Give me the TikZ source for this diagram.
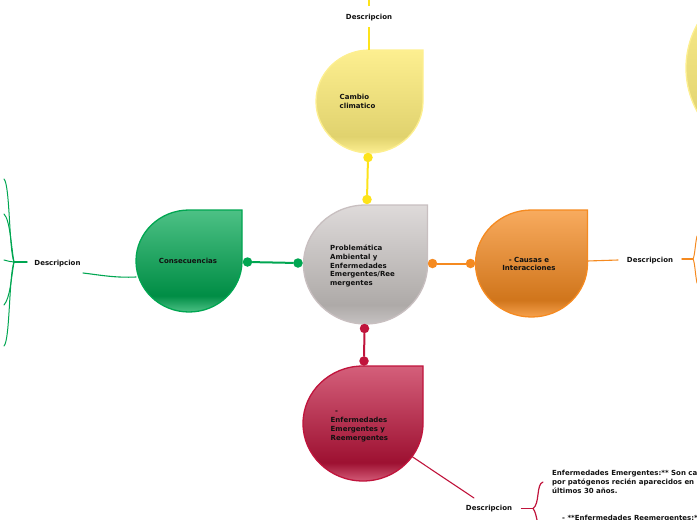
\documentclass[tikz,border=0pt]{standalone}
\usepackage{fontspec}
\setmainfont{DejaVu Sans}
\usetikzlibrary{shapes.geometric}
\definecolor{inkc}{HTML}{111111}
\definecolor{yellowl}{HTML}{FDE31A}
\definecolor{yellowb}{HTML}{FDEF90}
\definecolor{yellowd}{HTML}{E0D26E}
\definecolor{greenl}{HTML}{00A651}
\definecolor{orangel}{HTML}{F58A20}
\definecolor{redl}{HTML}{C0143C}
\definecolor{greyb}{HTML}{C8BFC0}
\definecolor{greyt}{HTML}{DEDADA}
\definecolor{greyd}{HTML}{AEAAA8}
\definecolor{greye}{HTML}{C6C2C2}
\pgfdeclareverticalshading{greyshade}{100bp}{color(0bp)=(greye); color(25bp)=(greye); color(33bp)=(greyd); color(75bp)=(greyt); color(100bp)=(greyt)}
\pgfdeclareverticalshading{yellowshade}{100bp}{color(0bp)=(yellowb); color(25bp)=(yellowb); color(33bp)=(yellowd); color(75bp)=(yellowb); color(100bp)=(yellowb)}
\pgfdeclareverticalshading{greenshade}{100bp}{color(0bp)=(greenl!70!white); color(25bp)=(greenl!70!white); color(33bp)=(greenl!85!black); color(75bp)=(greenl!70!white); color(100bp)=(greenl!70!white)}
\pgfdeclareverticalshading{orangeshade}{100bp}{color(0bp)=(orangel!80!white); color(25bp)=(orangel!80!white); color(33bp)=(orangel!85!black); color(75bp)=(orangel!72!white); color(100bp)=(orangel!72!white)}
\pgfdeclareverticalshading{redshade}{100bp}{color(0bp)=(redl!70!white); color(25bp)=(redl!70!white); color(33bp)=(redl!82!black); color(75bp)=(redl!68!white); color(100bp)=(redl!68!white)}
\tikzset{
	topic/.style={font=\fontsize{7}{8.8}\selectfont\bfseries,text=inkc,align=left,anchor=west,inner sep=0pt},
	label/.style={topic,anchor=center},
	dot/.style={circle,fill=#1,inner sep=0pt,minimum size=9.5pt},
	blobring/.style={ellipse,inner sep=0pt,outer sep=0pt,minimum width=#1},
	branch/.style={line width=#1,line cap=round},
}
% name, centre x, centre y, radii x and y, border colour, shading
\newcommand{\blob}[7]{
	\node [blobring=#4*2pt,minimum height=#5*2pt] (#1) at (#2,#3) {};
	\draw [#6,line width=1.3pt,shading=#7] (#2+#4,#3) -- (#2+#4,#3+#5) -- (#2,#3+#5) arc (90:360:#4 and #5) -- cycle;
}
\begin{document}
\begin{tikzpicture}[x=1pt,y=1pt]
	\useasboundingbox (0,0) rectangle (697,-520);
	\clip (0,0) rectangle (697,-520);

	\blob{central}{365.5}{-264.5}{62}{59.5}{greyb}{greyshade}
	\blob{climate}{369.5}{-101.5}{53.5}{51.5}{yellowb}{yellowshade}
	\blob{climatetwo}{776}{-68}{90}{90}{yellowb}{yellowshade}
	\blob{effects}{189}{-261}{53}{51}{greenl}{greenshade}
	\blob{causes}{531.5}{-263.5}{56}{53.5}{orangel}{orangeshade}
	\blob{diseases}{363}{-423.5}{60}{57.5}{redl}{redshade}

	\node [topic] (centraltxt) at (330,-266) {Problemática\\Ambiental y\\Enfermedades\\Emergentes/Ree\\mergentes};
	\node [topic] (climatetxt) at (339.5,-101.5) {Cambio\\climatico};
	\node [label] (effectstxt) at (188,-260.5) {Consecuencias};
	\node [label,align=center] (causestxt) at (529,-264) {- Causas e\\Interacciones};
	\node [topic] (diseasestxt) at (330.5,-426.5) {\hspace*{4.5pt}-\\Enfermedades\\Emergentes y\\Reemergentes};

	\node [label] (descclimate) at (369,-17.3) {Descripcion};
	\node [label] (desceffects) at (57.5,-263.3) {Descripcion};
	\node [label] (desccauses) at (650,-260.3) {Descripcion};
	\node [label] (descdiseases) at (489,-509) {Descripcion};

	\node [topic,anchor=north west] (diseasesnote) at (552,-470.2) {Enfermedades Emergentes:** Son ca\\por patógenos recién aparecidos en l\\últimos 30 años.};
	\node [topic] (reemergnote) at (562,-518.5) {- **Enfermedades Reemergentes:*};

	% central links
	\node [dot=yellowl] (dotcentralup) at (367,-199.5) {};
	\node [dot=yellowl] (dotclimate) at (368,-157.5) {};
	\node [dot=greenl] (dotcentralleft) at (298,-263) {};
	\node [dot=greenl] (doteffects) at (247.5,-262) {};
	\node [dot=orangel] (dotcentralright) at (432.5,-263.5) {};
	\node [dot=orangel] (dotcauses) at (470.5,-263.5) {};
	\node [dot=redl] (dotcentraldown) at (364.5,-328.5) {};
	\node [dot=redl] (dotdiseases) at (364,-361) {};
	\draw [yellowl,branch=2pt] (dotcentralup) -- (dotclimate);
	\draw [greenl,branch=2pt] (dotcentralleft) -- (doteffects);
	\draw [orangel,branch=2pt] (dotcentralright) -- (dotcauses);
	\draw [redl,branch=2pt] (dotcentraldown) -- (dotdiseases);

	% yellow branch
	\coordinate (climatetop) at (369,-50);
	\coordinate (climateup) at (369,-27);
	\coordinate (climateout) at (369,0);
	\coordinate (climatedown) at (369,-6);
	\draw [yellowl,line width=2pt] (climatetop) -- (climateup);
	\draw [yellowl,line width=2pt] (climatedown) -- (climateout);

	% green branch
	\coordinate (effectsend) at (83,-273);
	\coordinate (gfork) at (14,-262);
	\coordinate (gstub) at (27,-262);
	\coordinate (ga) at (4,-179);
	\coordinate (gb) at (4,-214);
	\coordinate (gc) at (4,-260);
	\coordinate (gd) at (4,-305);
	\coordinate (ge) at (4,-346);
	\draw [greenl,branch=1.1pt] (effects.west |- 0,-277) .. controls (115,-278) and (100,-275) .. (effectsend);
	\draw [greenl,branch=1.4pt] (gstub) -- (gfork);
	\draw [greenl,branch=1pt] (gfork) .. controls (9,-250) and (10,-185) .. (ga);
	\draw [greenl,branch=1pt] (gfork) .. controls (11,-245) and (10,-220) .. (gb);
	\draw [greenl,branch=1pt] (gfork) .. controls (11,-262) and (8,-261) .. (gc);
	\draw [greenl,branch=1pt] (gfork) .. controls (11,-280) and (10,-298) .. (gd);
	\draw [greenl,branch=1pt] (gfork) .. controls (9,-275) and (10,-340) .. (ge);

	% orange branch
	\coordinate (causesend) at (618,-260);
	\coordinate (ostub) at (682,-259);
	\coordinate (ofork) at (693,-259);
	\coordinate (oup) at (697,-236);
	\coordinate (odown) at (697,-283);
	\draw [orangel,branch=1.1pt] (causes.east |- 0,-261) -- (causesend);
	\draw [orangel,branch=1.4pt] (ostub) -- (ofork);
	\draw [orangel,branch=1pt] (ofork) .. controls (695,-255) and (695,-245) .. (oup);
	\draw [orangel,branch=1pt] (ofork) .. controls (695,-263) and (695,-273) .. (odown);

	% red branch
	\coordinate (diseasesend) at (474,-498);
	\coordinate (rstub) at (521.5,-508.5);
	\coordinate (rfork) at (533,-508.5);
	\coordinate (rup) at (543,-482);
	\coordinate (rdown) at (537,-520);
	\draw [redl,branch=1.1pt] (diseases.-34) -- (diseasesend);
	\draw [redl,branch=1.3pt] (rstub) -- (rfork);
	\draw [redl,branch=1.2pt] (rfork) .. controls (540,-504) and (536,-484) .. (rup);
	\draw [redl,branch=1.2pt] (rfork) .. controls (535,-511) and (536,-515) .. (rdown);
\end{tikzpicture}
\end{document}
